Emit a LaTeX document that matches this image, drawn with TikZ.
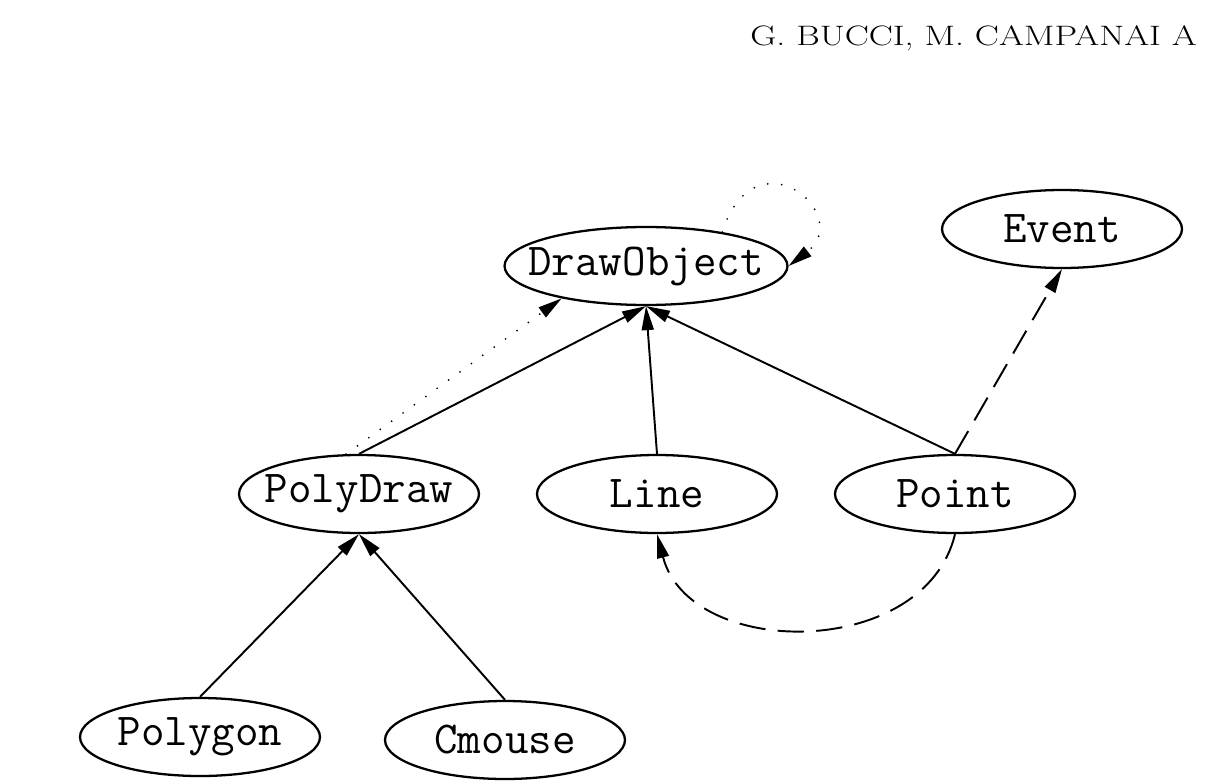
\documentclass[tikz,border=0pt]{standalone}
\usepackage{tikz}
\usetikzlibrary{arrows.meta, shapes.geometric}
\newcommand{\cname}[1]{\makebox[0pt]{#1}}

\begin{document}
\begin{tikzpicture}[x=0.02cm, y=-0.02cm,
  cls/.style={ellipse, draw, line width=1.3pt, minimum width=4.8cm,
              minimum height=1.56cm, inner sep=0pt,
              font=\ttfamily\fontsize{26}{30}\selectfont},
  a/.style={-{Triangle[length=4.8mm, width=2.4mm]}, line width=1.1pt},
  use/.style={a, dash pattern=on 15pt off 7pt},
  dep/.style={a, line cap=round, dash pattern=on 0pt off 8pt}]
\useasboundingbox (0,0) rectangle (1217,781);
\node[anchor=base west, inner sep=0pt, font=\fontsize{16}{19}\selectfont]
  (head) at (750,45) {\scalebox{1.28}[1]{G. BUCCI, M. CAMPANAI A}};
\node[cls, minimum width=5.66cm] (obj) at (646,266) {\cname{DrawObject}};
\node[cls] (event) at (1062,229) {\cname{Event}};
\node[cls] (poly) at (359,494) {\cname{PolyDraw}};
\node[cls] (line) at (657,494) {\cname{Line}};
\node[cls] (point) at (955,494) {\cname{Point}};
\node[cls] (pgon) at (200,737) {\cname{Polygon}};
\node[cls] (mouse) at (505,740) {\cname{Cmouse}};
% inheritance
\draw[a] (poly.north) -- (obj.south);
\draw[a] (line.north) -- (obj.south);
\draw[a] (point.north) -- (obj.south);
\draw[a] (pgon.north) -- (poly.south);
\draw[a] (mouse.north) -- (poly.south);
% other relations
\draw[dep] (poly.108) -- (obj.201);
\draw[dep] (obj.24) .. controls (755,130) and (855,215) .. (obj.east);
\draw[use] (point.north) -- (event.south);
\draw[use] (point.south) .. controls (925,660) and (690,660) .. (line.south);
\end{tikzpicture}
\end{document}
